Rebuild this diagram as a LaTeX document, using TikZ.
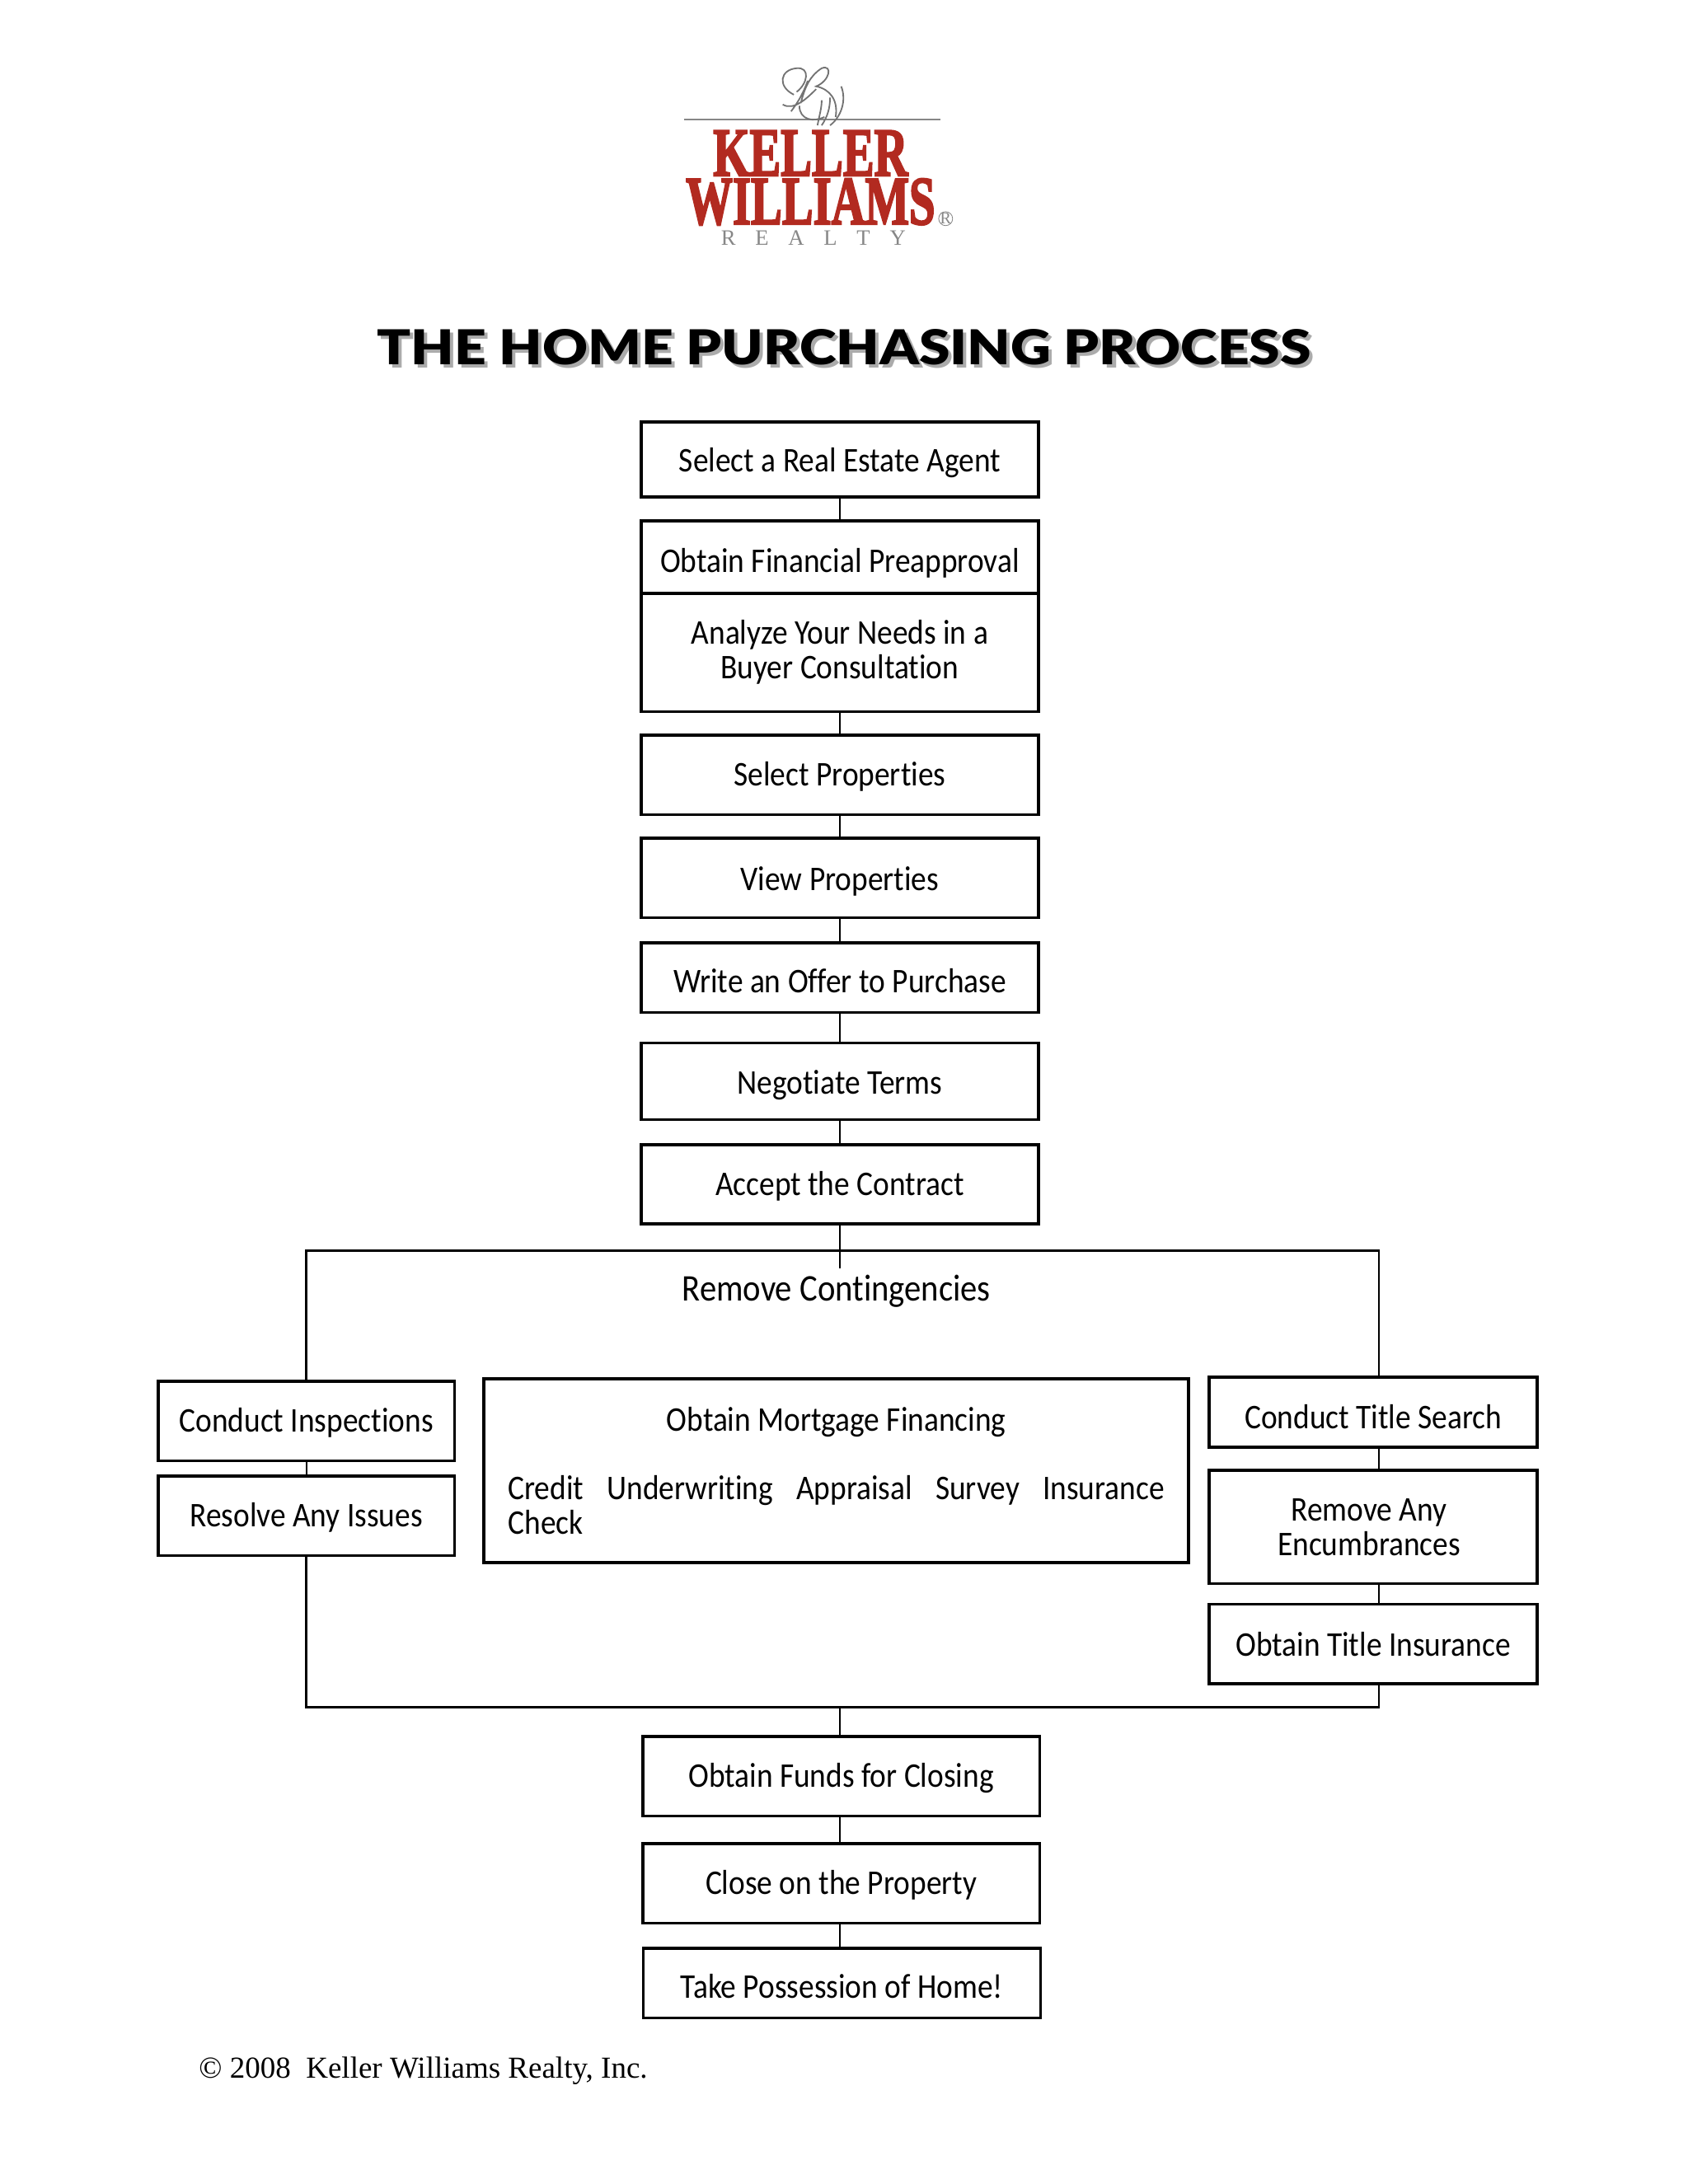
\documentclass[tikz,border=0pt]{standalone}
\usepackage{fontspec}
\setmainfont[FakeStretch=0.89,Ligatures=NoCommon]{Carlito}
\newfontfamily\titlefont[FakeStretch=1.16]{Lato Black}
\newfontfamily\copyfont{Liberation Serif}
\newfontfamily\logofont[FakeBold=3]{Liberation Serif Bold}
\definecolor{kwred}{RGB}{178,42,32}
\definecolor{kwgray}{RGB}{135,135,135}
\tikzset{
 stepbox/.style={draw,line width=1.1bp,outer sep=0pt,inner sep=0pt,align=center,font=\fontsize{12.6}{12.5bp}\selectfont,minimum width=144bp,text height=9.5bp,text depth=0.5bp},
 multibox/.style={text height=,text depth=},
 raised/.style={text height=8.5bp},
 lowered/.style={text height=11.5bp},
 sidebox/.style={stepbox,minimum width=107.5bp},
 titlebox/.style={stepbox,minimum width=119bp},
 rail/.style={line width=0.8bp},
 stem/.style={line width=0.6bp},
 logotext/.style={text=kwred,font=\logofont\fontsize{25}{25}\selectfont,inner sep=0pt}
}
\begin{document}
\begin{tikzpicture}[x=0.505bp,y=-0.505bp]
 \useasboundingbox (0,0) rectangle (1212,1568.3);
 %logo
 \draw[kwgray,line width=0.7bp] (491,86)--(675,86);
 \draw[kwgray!85!black,line width=0.55bp]
   (570,68) .. controls (558,62) and (560,50) .. (572,49) .. controls (582,48) and (580,60) .. (572,66)
   (575,74) .. controls (578,62) and (582,54) .. (590,49) .. controls (598,46) and (596,58) .. (586,62) .. controls (596,64) and (602,72) .. (600,84)
   (562,75) .. controls (570,80) and (580,70) .. (586,64)
   (574,76) .. controls (574,86) and (584,88) .. (592,84)
   (580,58) .. controls (577,66) and (574,72) .. (568,80)
   (590,72) .. controls (590,78) and (588,84) .. (587,90) (596,70) .. controls (596,78) and (594,84) .. (590,90)
   (604,62) .. controls (608,72) and (604,84) .. (596,90);
 \node[logotext] (keller) at (582,110) {\scalebox{.68}[1]{KELLER}};
 \node[logotext] (williams) at (582,145) {\scalebox{.68}[1]{WILLIAMS}};
 \node[inner sep=0pt,text=kwgray,font=\copyfont\fontsize{6}{6}\selectfont] (regmark) at (679,157) {R};
 \draw[kwgray,line width=0.25bp] (regmark) circle (5);
 \node[inner sep=0pt,text=kwgray,font=\copyfont\fontsize{8}{8}\selectfont] (realty) at (584,171) {R\hspace{7.1bp}E\hspace{7.1bp}A\hspace{7.1bp}L\hspace{7.1bp}T\hspace{7.1bp}Y};
 %title
 \node[inner sep=0pt,text=kwgray!70,font=\titlefont\fontsize{17.5}{17.5}\selectfont] at (608.5,251.5) {THE HOME PURCHASING PROCESS};
 \node[inner sep=0pt,font=\titlefont\fontsize{17.5}{17.5}\selectfont] (title) at (606,249) {THE HOME PURCHASING PROCESS};
 %main column
 \node[stepbox,minimum height=27.3bp] (agent) at (603,330) {Select a Real Estate Agent};
 \node[stepbox,lowered,minimum height=26.2bp] (preapproval) at (603,400) {Obtain Financial Preapproval};
 \node[stepbox,multibox,minimum height=43bp] (needs) at (603,468.5) {Analyze Your Needs in a\\Buyer Consultation};
 \node[stepbox,raised,minimum height=28.8bp] (select) at (603,556.5) {Select Properties};
 \node[stepbox,minimum height=28.8bp] (view) at (603,630.5) {View Properties};
 \node[stepbox,lowered,minimum height=25.3bp] (offer) at (603,702) {Write an Offer to Purchase};
 \node[stepbox,minimum height=27.8bp] (negotiate) at (603,776.5) {Negotiate Terms};
 \node[stepbox,raised,minimum height=28.8bp] (accept) at (603,850.5) {Accept the Contract};
 \foreach \a/\b in {agent/preapproval,needs/select,select/view,view/offer,offer/negotiate,negotiate/accept}
   \draw[stem] (\a)--(\b);
 %contingencies
 \coordinate (stemend) at (603,911);
 \coordinate (railtop) at (603,898);
 \coordinate (railbot) at (603,1226);
 \coordinate (railr) at (990,898);
 \node[inner sep=0pt,font=\fontsize{13.7}{13.7}\selectfont] (remove) at (600.5,927) {Remove Contingencies};
 \draw[stem] (accept)--(stemend);
 \node[sidebox,raised,minimum height=28.8bp] (inspect) at (220,1020.5) {Conduct Inspections};
 \node[sidebox,raised,minimum height=28.8bp] (issues) at (220,1088.5) {Resolve Any Issues};
 \node[stepbox,multibox,minimum width=255.5bp,minimum height=66.6bp,text width=238bp,align=left] (mortgage) at (600.5,1056)
   {\leavevmode\hbox to 238bp{\spaceskip=0pt\hfil Obtain Mortgage Financing\hfil}\\[12.5bp]
    \leavevmode\hbox to 238bp{Credit\hfill Underwriting\hfill Appraisal\hfill Survey\hfill Insurance}\\
    Check};
 \node[titlebox,text height=12.5bp,minimum height=25.3bp] (search) at (986,1014) {Conduct Title Search};
 \node[titlebox,multibox,minimum height=41bp] (encumb) at (986,1096.5) {\hspace*{-3bp}Remove Any\\\hspace*{-3bp}Encumbrances};
 \node[titlebox,minimum height=28.8bp] (insurance) at (986,1180.5) {Obtain Title Insurance};
 \draw[stem] (inspect)--(issues);
 \draw[rail] (inspect.north) |- (railtop) -- (railr) -- (railr |- search.north);
 \draw[rail] (issues.south) |- (railbot) -| (railr |- insurance.south);
 \draw[stem] (railr |- search.south)--(railr |- encumb.north);
 \draw[stem] (railr |- encumb.south)--(railr |- insurance.north);
 %closing
 \node[stepbox,raised,minimum height=28.8bp] (funds) at (604,1275.5) {Obtain Funds for Closing};
 \node[stepbox,raised,minimum height=28.8bp] (close) at (604,1352.5) {Close on the Property};
 \node[stepbox,lowered,minimum height=25.3bp] (possession) at (604.5,1424) {Take Possession of Home!};
 \draw[stem] (railbot)--(railbot |- funds.north);
 \draw[stem] (railbot |- funds.south)--(railbot |- close.north);
 \draw[stem] (railbot |- close.south)--(railbot |- possession.north);
 \node[anchor=west,inner sep=0pt,font=\copyfont\fontsize{11.1}{11.1}\selectfont] (copy) at (142.5,1487) {\textcopyright{} 2008\ \ Keller Williams Realty, Inc.};
\end{tikzpicture}
\end{document}
